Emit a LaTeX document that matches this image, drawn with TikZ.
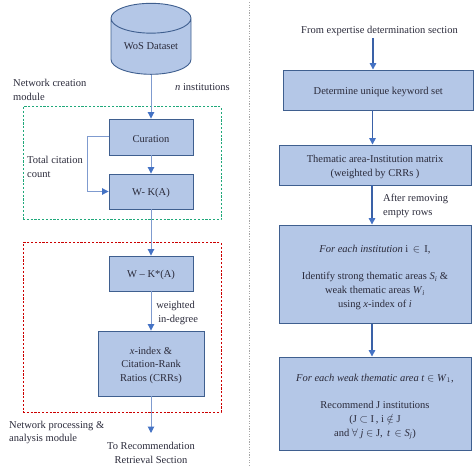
\documentclass[tikz,border=0pt]{standalone}
\usepackage{fontspec}
\setmainfont{Liberation Serif}
\usetikzlibrary{arrows.meta,shapes.geometric}
\definecolor{boxfill}{HTML}{B4C7E7}
\definecolor{boxline}{HTML}{3F5F8F}
\definecolor{arrowblue}{HTML}{4472C4}
\definecolor{linkblue}{HTML}{7F9BCF}
\definecolor{txt}{HTML}{2A2A3A}
\definecolor{greenframe}{HTML}{1FA87A}
\tikzset{
  every node/.style={font=\fontsize{10.5}{13.8}\selectfont,text=txt},
  procbox/.style={draw=boxline,fill=boxfill,line width=0.9pt,align=center,inner sep=0pt},
  lbl/.style={align=left,inner sep=0pt},
  clbl/.style={align=center,inner sep=0pt},
  thinarrow/.style={draw=linkblue,line width=1pt,-{Triangle[length=6.5pt,width=6.5pt,color=arrowblue]}},
  thickarrow/.style={draw=arrowblue!85!black,line width=1.4pt,-{Triangle[length=6.5pt,width=6.5pt,color=arrowblue]}},
  modulebox/.style={line width=1pt,dash pattern=on 2.2pt off 1.6pt,inner sep=0pt,fill=none},
}
\newcommand{\bx}[6]{\node[procbox,minimum width=#4 pt-#2 pt,minimum height=#5 pt-#3 pt] (#1) at ({(#2+#4)/2},{-(#3+#5)/2}) {\rule{0pt}{11pt}#6};}
\begin{document}
\begin{tikzpicture}[x=1pt,y=1pt]
\useasboundingbox (0,0) rectangle (474,-470);
% module frames
\node[modulebox,draw=greenframe,minimum width=198pt,minimum height=113pt] (green) at (122,-163.5) {};
\node[modulebox,draw=red!80!black,minimum width=198pt,minimum height=169pt] (red) at (122,-327.5) {};
% separator
\coordinate (sepa) at (249,-2);
\coordinate (sepb) at (249,-467);
\draw[gray!70,line width=0.8pt,dash pattern=on 1.2pt off 1.4pt] (sepa) -- (sepb);
% left column
\node[cylinder,shape border rotate=90,aspect=0.55,draw=boxline,fill=boxfill,line width=0.9pt,minimum width=80pt,minimum height=71pt,inner sep=0pt,align=center] (wos) at (151,-46.5) {WoS Dataset};
\bx{cur}{109}{119}{193}{155}{Curation}
\bx{wk}{109}{174}{193}{209}{W- K(A)}
\bx{wks}{109}{256}{193}{291}{W – K*(A)}
\bx{xidx}{98}{331}{204}{396}{\textit{x}-index \&\\Citation-Rank\\Ratios (CRRs)}
\coordinate (out) at (151,-433);
\draw[thinarrow] (wos.south) -- (cur.north);
\draw[thinarrow] (cur) -- (wk);
\draw[thinarrow] (wk) -- (wks);
\draw[thinarrow] (wks) -- (xidx);
\draw[thinarrow] (xidx) -- (out);
\draw[thinarrow] (cur.west) -- ++(-21.5,0) |- (wk.west);
\node[lbl,anchor=west] (l1) at (13,-90) {Network creation\\module};
\node[lbl,anchor=west] (l3) at (175,-87) {\textit{n} institutions};
\node[lbl,anchor=west] (l4) at (27,-167) {Total citation\\count};
\node[clbl] (l6) at (175.5,-313) {weighted\\\,\,\,in-degree};
\node[lbl,anchor=west] (l7) at (9,-432.5) {Network processing \&\\analysis module};
\node[clbl] (l8) at (151,-453) {To Recommendation\\Retrieval Section};
% right column
\node[clbl] (from) at (379.5,-30.5) {From expertise determination section};
\bx{keys}{283}{70}{473.5}{110}{Determine unique keyword set}
\bx{mat}{279}{145}{471}{185}{Thematic area-Institution matrix\\(weighted by CRRs )}
\bx{ident}{279}{225}{471}{323.5}{\rule{0pt}{13.5pt}\textit{For each institution} i \,$\in$\, I,\\[13.8pt]Identify strong thematic areas \textit{S}$_{\mathit{i}}$ \&\\weak thematic areas \textit{W}$_{\mathit{i}}$\\using \textit{x}-index of \textit{i}}
\bx{rec}{279}{357}{471}{450}{\rule{0pt}{13.5pt}\textit{For each weak thematic area t} $\in$ \textit{W}$_{1}$,\\[13.8pt]Recommend J institutions\\(J $\subset$ I\,, i $\notin$ J\\and $\forall$ \textit{j} $\in$ J,\, \textit{t} \,$\in$ \textit{S}$_{\mathit{j}}$)}
\coordinate (fromb) at (373,-38);
\draw[thickarrow] (fromb) -- (fromb |- keys.north);
\draw[thickarrow] (keys.south -| 372.5,0) -- (mat.north -| 372.5,0);
\draw[thickarrow] (mat.south -| 372,0) -- (ident.north -| 372,0);
\draw[thickarrow] (ident.south -| 372,0) -- (rec.north -| 372,0);
\node[lbl,anchor=west] (l9) at (383,-206) {After removing\\empty rows};
\end{tikzpicture}
\end{document}
